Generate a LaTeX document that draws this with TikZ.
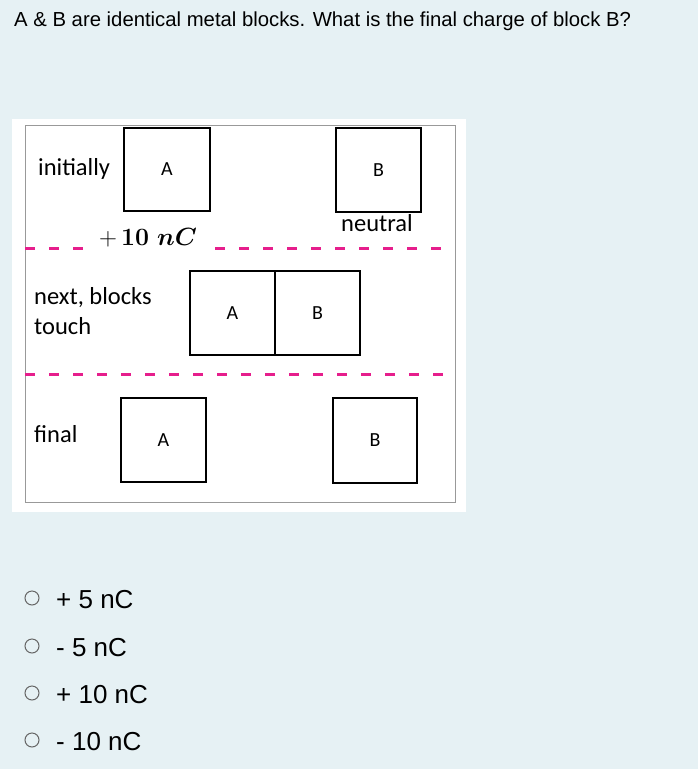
\documentclass[tikz,border=0pt]{standalone}
\usepackage{fontspec}
\setmainfont{Carlito}
\newfontfamily\hdr{Liberation Sans}
\usepackage{amsmath}
\begin{document}
\begin{tikzpicture}[x=1pt,y=-1pt,
  blk/.style={draw,line width=2pt,anchor=north west,font=\fontsize{20}{22}\selectfont},
  lbl/.style={font=\fontsize{24.5}{27}\selectfont,inner sep=0},
  pk/.style={draw={rgb,255:red,230;green,30;blue,140},line width=3pt,dash pattern=on 10pt off 14pt},
  opt/.style={font=\hdr\fontsize{26}{29}\selectfont,anchor=west,inner sep=0},
  rad/.style={draw=black!60,line width=1pt,circle,minimum size=14pt,inner sep=0}]
\definecolor{bgc}{RGB}{230,241,244}
\fill[bgc] (0,0) rectangle (698,769);
\useasboundingbox (0,0) rectangle (698,769);
\node[anchor=west,inner sep=0,font=\hdr\fontsize{20.3}{22}\selectfont] (q) at (14,21) {A \& B are identical metal blocks. What is the final charge of block B?};
\fill[white] (12,119) rectangle (466,512);
\draw[gray!80,line width=1pt] (25,125) rectangle (455,502);
\node[blk,minimum width=86pt,minimum height=83pt] (a1) at (123,127) {A};
\node[blk,minimum width=85pt,minimum height=84pt] (b1) at (335,127) {B};
\node[lbl,anchor=west] (t1) at (38,169) {initially};
\node[lbl] (t2) at (377,223) {neutral};
\node[inner sep=0,font=\fontsize{35}{37}\selectfont] (t3) at (148,238) {$+\,\boldsymbol{10\ nC}$};
\draw[pk] (25,248) -- (88,248);
\draw[pk] (215,248) -- (443,248);
\draw[pk] (25,374) -- (443,374);
\node[blk,minimum width=85pt,minimum height=84pt] (a2) at (189,270) {A};
\node[blk,minimum width=85pt,minimum height=84pt] (b2) at (274,270) {B};
\node[lbl,anchor=west] (t4) at (34,298) {next, blocks};
\node[lbl,anchor=west] (t5) at (34,326) {touch};
\node[blk,minimum width=85pt,minimum height=84pt] (a3) at (120,397) {A};
\node[blk,minimum width=84pt,minimum height=85pt] (b3) at (332,397) {B};
\node[lbl,anchor=west] (t6) at (34,434) {final};
\node[rad] (r1) at (32,598) {}; \node[opt] (o1) at (56,600) {+ 5 nC};
\node[rad] (r2) at (32,646) {}; \node[opt] (o2) at (56,648) {- 5 nC};
\node[rad] (r3) at (32,693) {}; \node[opt] (o3) at (56,695) {+ 10 nC};
\node[rad] (r4) at (32,740) {}; \node[opt] (o4) at (56,742) {- 10 nC};
\end{tikzpicture}
\end{document}
